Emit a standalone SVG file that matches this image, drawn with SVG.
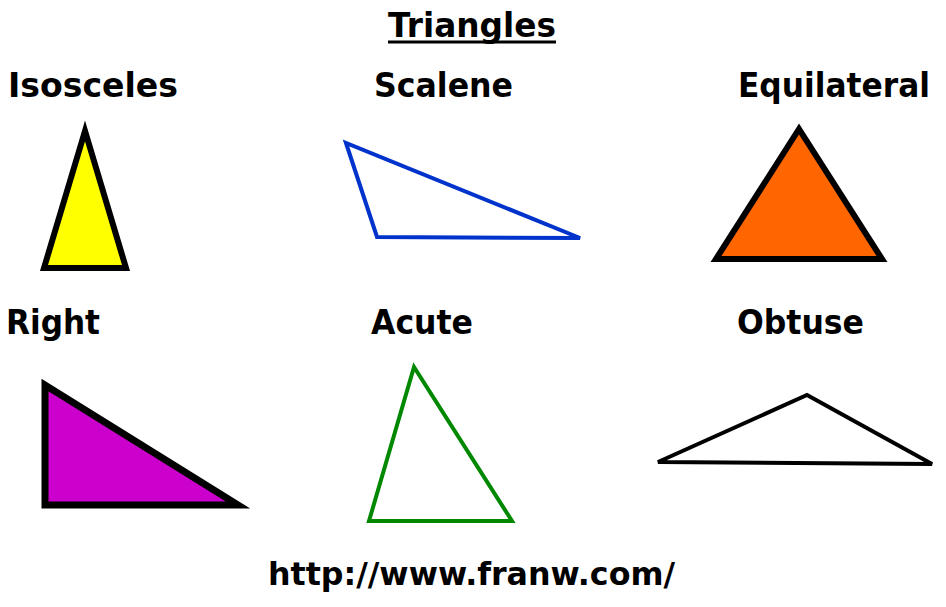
<svg xmlns="http://www.w3.org/2000/svg" width="946" height="607" viewBox="0 0 946 607">
<style>
text{font-family:"DejaVu Sans","Verdana",sans-serif;font-weight:bold;fill:#000}
.lbl{font-size:34px}
.tri{stroke-linejoin:miter;stroke-miterlimit:4}
</style>
<rect width="946" height="607" fill="#fff"/>
<g id="title">
<text class="lbl" x="388" y="37" textLength="168" lengthAdjust="spacingAndGlyphs">Triangles</text>
<line x1="388" y1="42" x2="556" y2="42" stroke="#000" stroke-width="3"/>
</g>
<g id="isosceles">
<text class="lbl" x="8" y="97" textLength="170" lengthAdjust="spacingAndGlyphs">Isosceles</text>
<polygon class="tri" points="85,131 44,268 126,268" fill="#ffff00" stroke="#000" stroke-width="6"/>
</g>
<g id="scalene">
<text class="lbl" x="374" y="97" textLength="139" lengthAdjust="spacingAndGlyphs">Scalene</text>
<polygon class="tri" points="346,143 377,237 580,238" fill="none" stroke="#0033cc" stroke-width="4"/>
</g>
<g id="equilateral">
<text class="lbl" x="738" y="97" textLength="192" lengthAdjust="spacingAndGlyphs">Equilateral</text>
<polygon class="tri" points="799,129 716,259 882,259" fill="#ff6600" stroke="#000" stroke-width="6"/>
</g>
<g id="right">
<text class="lbl" x="6" y="334" textLength="94" lengthAdjust="spacingAndGlyphs">Right</text>
<polygon class="tri" points="45,385 45,505 238,505" fill="#cc00cc" stroke="#000" stroke-width="7"/>
</g>
<g id="acute">
<text class="lbl" x="371" y="334" textLength="102" lengthAdjust="spacingAndGlyphs">Acute</text>
<polygon class="tri" points="414,367 369,521 512,521" fill="none" stroke="#008800" stroke-width="4"/>
</g>
<g id="obtuse">
<text class="lbl" x="737" y="334" textLength="127" lengthAdjust="spacingAndGlyphs">Obtuse</text>
<polygon class="tri" points="658,462 807,395 932,464" fill="none" stroke="#000" stroke-width="4"/>
</g>
<g id="url">
<text x="268" y="585" font-size="32" textLength="407" lengthAdjust="spacingAndGlyphs">http://www.franw.com/</text>
</g>
</svg>
